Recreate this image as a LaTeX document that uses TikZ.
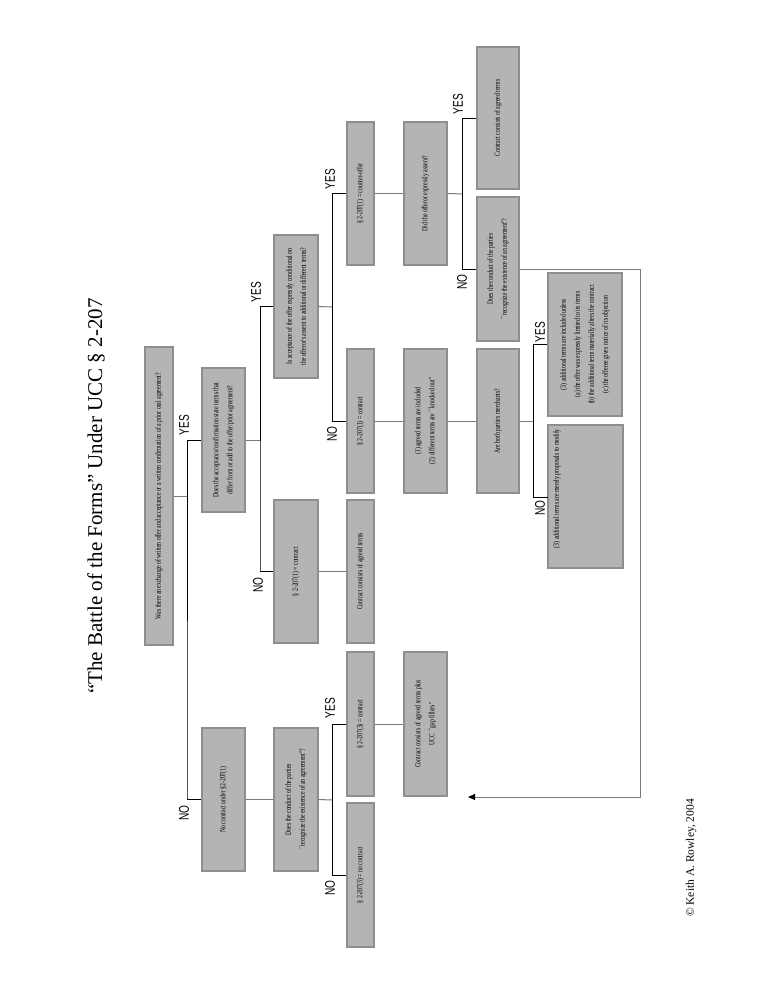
\documentclass[tikz,border=0pt]{standalone}
\usepackage{fontspec}
\setmainfont{Liberation Serif}
\newfontfamily\cond[FakeStretch=0.72]{Liberation Serif}
\newfontfamily\lblfont[FakeStretch=0.72]{Liberation Sans}
\usetikzlibrary{arrows.meta}
\definecolor{boxfill}{HTML}{B4B4B4}
\definecolor{boxline}{HTML}{8E8E8E}
\definecolor{lnk}{HTML}{7A7A7A}
\tikzset{
  fbox/.style={rotate=90,draw=boxline,line width=1.2pt,fill=boxfill,inner sep=2pt,align=center,
    font=\cond\fontsize{8}{14}\selectfont},
  blk/.style={black,line width=1pt},
  gry/.style={lnk,line width=1pt},
  lbl/.style={rotate=90,font=\lblfont\fontsize{14}{14}\selectfont,inner sep=0pt},
}
% \bx{name}{x1}{x2}{y1}{y2}{text}
\newcommand{\bx}[6]{\node[fbox,minimum width={(#5-#4)*1pt},minimum height={(#3-#2)*1pt}] (#1) at ({(#2+#3)/2},{(#4+#5)/2}) {#6};}
\begin{document}
\begin{tikzpicture}[x=1pt,y=-1pt]
\useasboundingbox[fill=white] (0,0) rectangle (768,994);
\node[rotate=90,font=\fontsize{21}{21}\selectfont,inner sep=0pt] (title) at (96,496) {``The Battle of the Forms'' Under UCC \S{} 2-207};
\node[rotate=90,font=\fontsize{11.5}{12}\selectfont,inner sep=0pt] (copy) at (691,858) {\textcopyright{} Keith A. Rowley, 2004};

\bx{A}{145}{173}{347}{645}{Was there an exchange of written offer and acceptance or a written confirmation of a prior oral agreement?}
\bx{B}{202}{245}{368}{512}{Does the acceptance/confirmation state terms that\\differ from or add to the offer/prior agreement?}
\bx{C}{274}{318}{235}{378}{Is acceptance of the offer expressly conditional on\\the offeror's assent to additional or different terms?}
\bx{D}{347}{374}{122}{265}{\S{} 2-207(1) = counter-offer}
\bx{E}{347}{374}{349}{493}{\S{} 2-207(1) = contract}
\bx{F}{404}{447}{122}{265}{Did the offeror expressly assent?}
\bx{G}{404}{447}{349}{493}{(1) agreed terms are included\\(2) different terms are ``knocked out''}
\bx{H}{477}{519}{47}{189}{Contract consists of agreed terms}
\bx{I}{477}{519}{197}{341}{Does the conduct of the parties\\``recognize the existence of an agreement''?}
\bx{J}{477}{519}{349}{493}{Are both parties merchants?}
\bx{K}{548}{622}{273}{416}{(3) additional terms are included unless\\(a) the offer was expressly limited to its terms\\(b) the additional term materially alters the contract\\(c) the offeree gives notice of its objection}
\bx{L}{548}{623}{425}{568}{}
\node[rotate=90,anchor=north east,font=\cond\fontsize{8}{14}\selectfont,inner sep=2pt] (Ltxt) at (551,427) {(3) additional terms are merely proposals to modify};
\bx{E2}{274}{318}{500}{643}{\S{} 2-207(1) = contract}
\bx{R}{347}{374}{500}{643}{Contract consists of agreed terms}
\bx{M}{202}{245}{728}{871}{No contract under \S{}2-207(1)}
\bx{N}{274}{318}{728}{871}{Does the conduct of the parties\\``recognize the existence of an agreement''?}
\bx{O}{347}{374}{652}{796}{\S{} 2-207(3) = contract}
\bx{P}{347}{374}{803}{947}{\S{} 2-207(3) = no contract}
\bx{Q}{404}{447}{652}{796}{Contract consists of agreed terms plus\\UCC ``gap fillers''}

% connectors
\draw[gry] (A.south) -- (187,496);
\draw[blk] (B.north) -| (187,798) |- (M.north);
\draw[gry] (B.south) -- (260,440);
\draw[blk] (C.north) -| (260,572) |- (E2.north);
\draw[gry] (E2.south) -- (R.north);
\draw[gry] (C.south) -- (332,307);
\draw[blk] (D.north) -| (332,421) |- (E.north);
\draw[gry] (D.south) -- (F.north);
\draw[gry] (E.south) -- (G.north);
\draw[gry] (G.south) -- (J.north);
\draw[gry] (F.south) -- (462,194);
\draw[blk] (H.north) -| (462,269) |- (I.north);
\draw[gry] (J.south) -- (533,421);
\draw[blk] (K.north) -| (533,497) -- (548,497);
\draw[gry] (M.south) -- (N.north);
\draw[gry] (N.south) -- (332,800);
\draw[blk] (O.north) -| (332,875) |- (P.north);
\draw[gry] (O.south) -- (Q.north);
\coordinate (back) at (468,797);
\draw[gry,-{Triangle[length=7pt,width=6pt,black]}] (I.south) -- (640,269) -- (640,797) -- (back);

% labels
\node[lbl] (l1) at (184,425) {YES};
\node[lbl] (l2) at (184,813) {NO};
\node[lbl] (l3) at (256,292) {YES};
\node[lbl] (l4) at (258,585) {NO};
\node[lbl] (l5) at (330,179) {YES};
\node[lbl] (l6) at (332,434) {NO};
\node[lbl] (l7) at (458,104) {YES};
\node[lbl] (l8) at (462,282) {NO};
\node[lbl] (l9) at (540,332) {YES};
\node[lbl] (l10) at (540,508) {NO};
\node[lbl] (l11) at (330,708) {YES};
\node[lbl] (l12) at (330,888) {NO};
\end{tikzpicture}
\end{document}
